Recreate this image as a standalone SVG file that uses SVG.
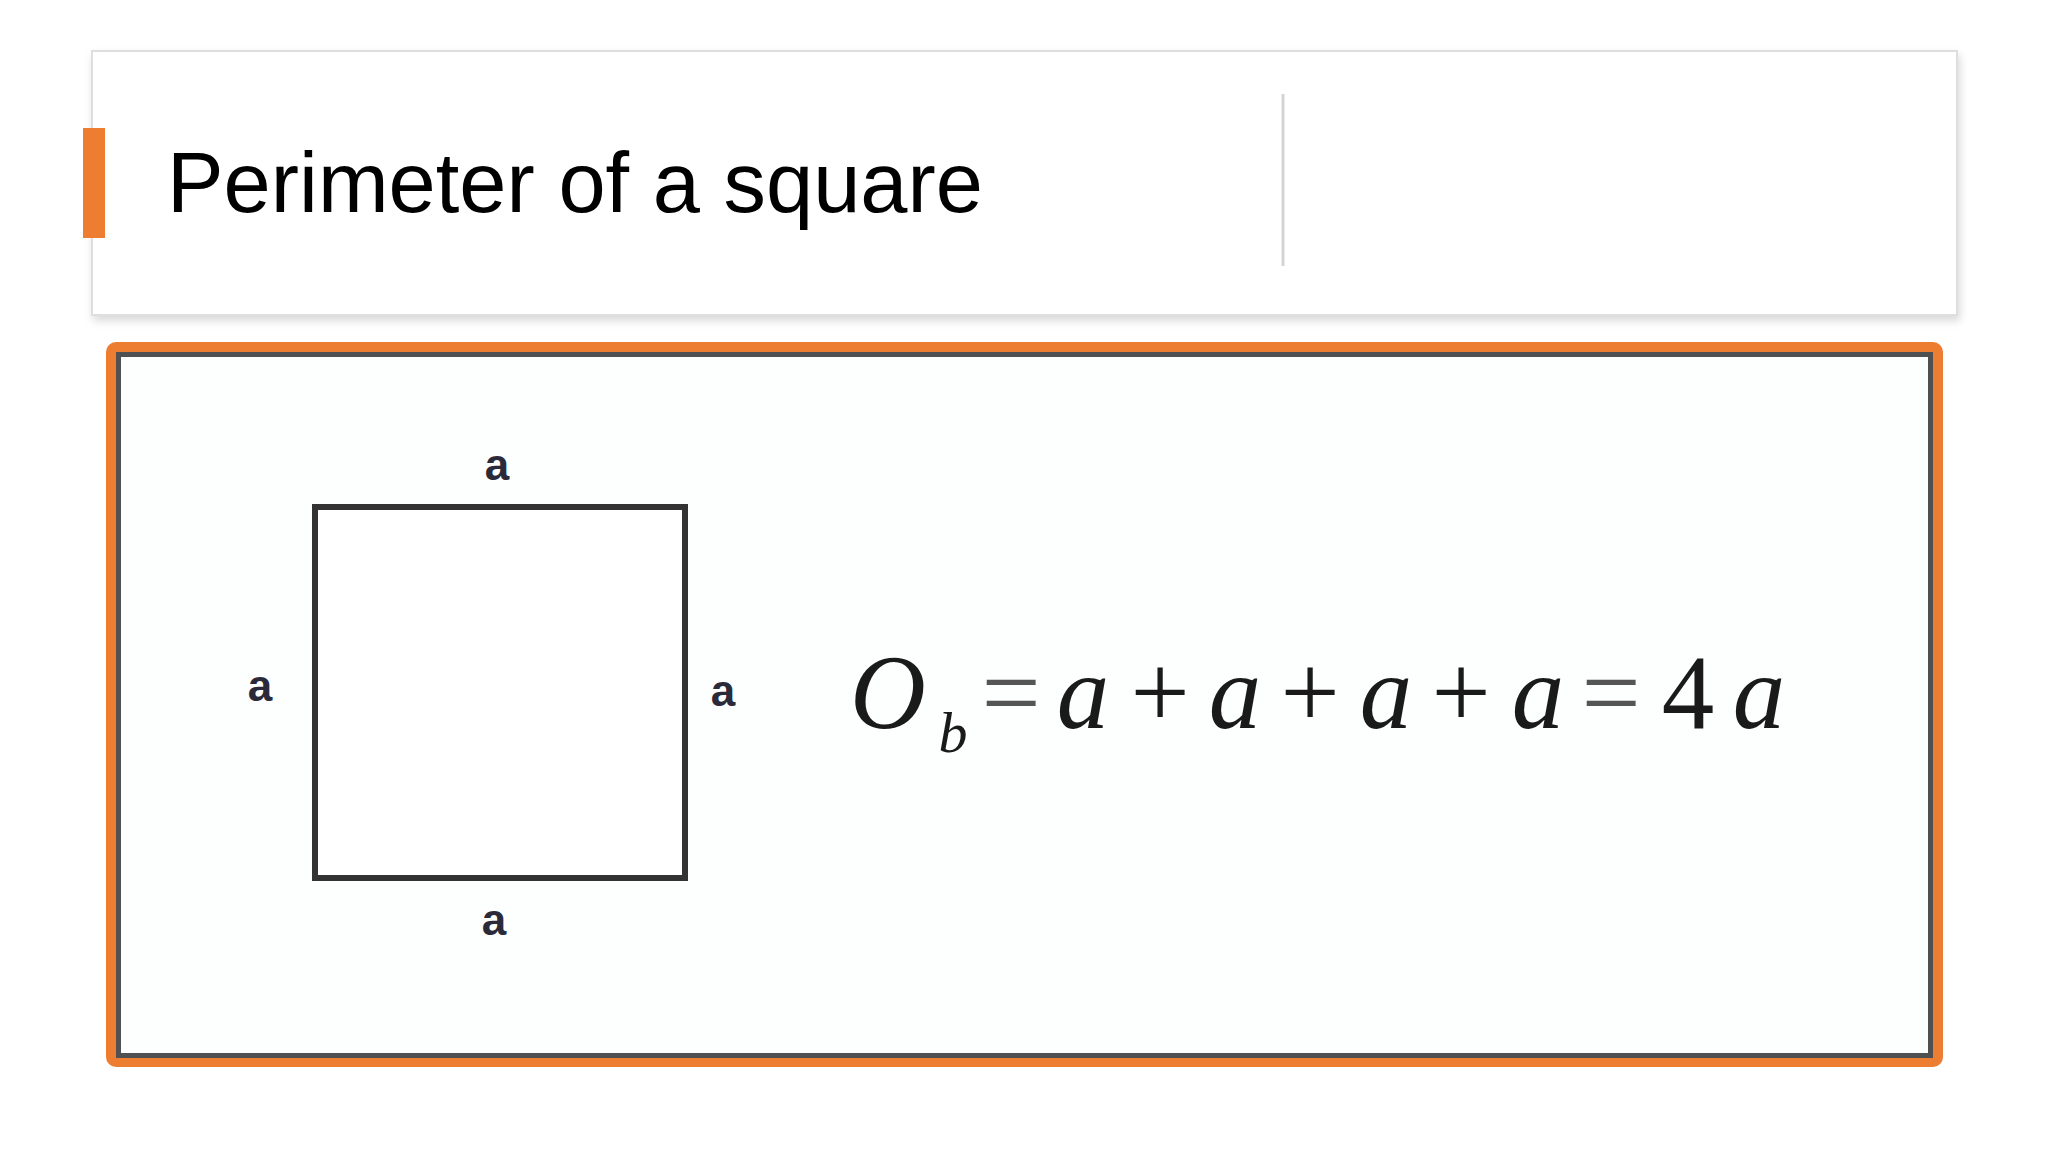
<svg xmlns="http://www.w3.org/2000/svg" width="2048" height="1152" viewBox="0 0 2048 1152">
<style>
.title{font-family:"Liberation Sans",Arial,sans-serif;font-size:85.5px;fill:#000}
.lbl{font-family:"Liberation Sans",Arial,sans-serif;font-size:44px;font-weight:bold;fill:#2a2a3a}
.m{font-family:"Liberation Serif","Times New Roman",serif;font-size:105px;fill:#1a1a1a}
.mi{font-style:italic}
.op{fill:#555}
</style>
<defs>
<filter id="sh" x="-5%" y="-10%" width="110%" height="125%">
<feDropShadow dx="2" dy="5" stdDeviation="4" flood-color="#000" flood-opacity="0.15"/>
</filter>
</defs>
<rect width="2048" height="1152" fill="#ffffff"/>
<g id="title-card">
<rect x="92" y="51" width="1865" height="264" fill="#ffffff" stroke="#dedede" stroke-width="2" filter="url(#sh)"/>
<rect x="83" y="128" width="22" height="110" fill="#ED7D31"/>
<line x1="1283" y1="94" x2="1283" y2="266" stroke="#d4d4d4" stroke-width="3"/>
<text class="title" x="167" y="212" textLength="816" lengthAdjust="spacingAndGlyphs">Perimeter of a square</text>
</g>
<g id="content-frame">
<rect x="111" y="347" width="1827" height="715" rx="5" fill="#fdfefe" stroke="#ED7D31" stroke-width="10"/>
<rect x="118.5" y="354.5" width="1812" height="701" fill="none" stroke="#4f5052" stroke-width="5"/>
</g>
<g id="square">
<rect x="315" y="507" width="370" height="371" fill="#ffffff" stroke="#333" stroke-width="6"/>
<text class="lbl" x="497" y="480" text-anchor="middle">a</text>
<text class="lbl" x="260" y="701" text-anchor="middle">a</text>
<text class="lbl" x="723" y="706" text-anchor="middle">a</text>
<text class="lbl" x="494" y="935" text-anchor="middle">a</text>
</g>
<g id="formula">
<text class="m" y="728" text-anchor="middle"><tspan class="mi" x="888">O</tspan><tspan class="mi" x="953" y="752" font-size="58">b</tspan><tspan class="op" x="1011" y="728">=</tspan><tspan class="mi" x="1083">a</tspan><tspan x="1160">+</tspan><tspan class="mi" x="1235">a</tspan><tspan x="1310">+</tspan><tspan class="mi" x="1386">a</tspan><tspan x="1461">+</tspan><tspan class="mi" x="1538">a</tspan><tspan class="op" x="1611">=</tspan><tspan x="1688">4</tspan><tspan class="mi" x="1759">a</tspan></text>
</g>
</svg>
